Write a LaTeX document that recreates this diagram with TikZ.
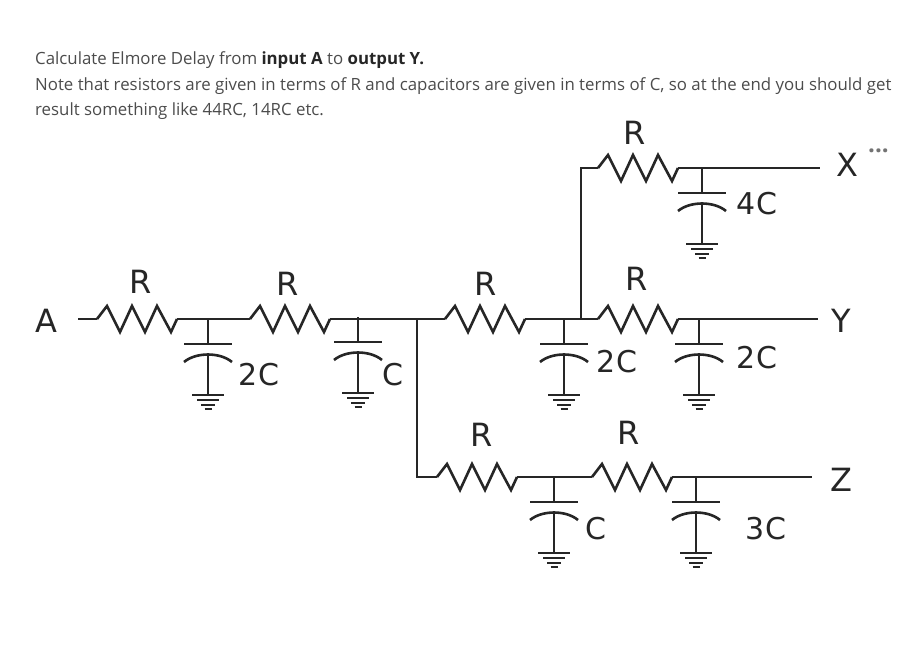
\documentclass[tikz,border=0pt]{standalone}
\usepackage{fontspec}
\setmainfont{Open Sans}
\newfontfamily\labelfont{DejaVu Sans}
\tikzset{
  x=1pt,y=-1pt,
  wire/.style={line width=2.6pt,color=black!85,line join=miter},
  lab/.style={font=\labelfont\fontsize{32}{32}\selectfont,text=black!85,inner sep=0pt,anchor=center},
  clab/.style={font=\labelfont\fontsize{30}{30}\selectfont,text=black!85,inner sep=0pt,anchor=center},
  txt/.style={font=\fontsize{16.83}{20}\selectfont,text=black!70,inner sep=0pt,anchor=base west},
  resistor/.pic={
    \coordinate (-in) at (0,0);
    \coordinate (-out) at (80,0);
    \draw[wire] (-in) -- (10,-13) -- (23,13) -- (35,-13) -- (48,13) -- (60,-13) -- (74,13) -- (-out);
  },
  capgnd/.pic={
    \coordinate (-top) at (0,0);
    \draw[wire] (-top) -- (0,25);
    \draw[wire] (-24,25) -- (24,25);
    \draw[wire] (-24,43) .. controls (-12,33) and (12,33) .. (24,43);
    \draw[wire] (0,36) -- (0,76);
    \draw[wire] (-16,76) -- (16,76);
    \draw[wire] (-11,81) -- (11,81);
    \draw[wire] (-7,86) -- (7,86);
    \draw[wire] (-3.5,90) -- (3.5,90);
  },
}
\begin{document}
\begin{tikzpicture}
\useasboundingbox (0,0) rectangle (920,670);
\fill[white] (0,0) rectangle (920,670);
\node[txt] (t1) at (35,64.5) {Calculate Elmore Delay from {\color{black!85}\textbf{input A}} to {\color{black!85}\textbf{output Y.}}};
\node[txt] (t2) at (35,90) {Note that resistors are given in terms of R and capacitors are given in terms of C, so at the end you should get};
\node[txt] (t3) at (35,115) {result something like 44RC, 14RC etc.};

\node[lab] (A) at (46,321) {A};
\coordinate (astart) at (78,319);
\pic (r1) at (97,319) {resistor};
\pic (r2) at (250,319) {resistor};
\pic (r3) at (445,319) {resistor};
\pic (r4) at (598,319) {resistor};
\pic (r5) at (598,168) {resistor};
\pic (r6) at (437,477) {resistor};
\pic (r7) at (592,477) {resistor};

\pic (c1) at (208,319) {capgnd};
\pic (c2) at (358,317) {capgnd};
\pic (c3) at (564,319) {capgnd};
\pic (c4) at (699,319) {capgnd};
\pic (c5) at (702,168) {capgnd};
\pic (c6) at (554,477) {capgnd};
\pic (c7) at (696,477) {capgnd};

\coordinate (jz) at (417,319);
\coordinate (jzb) at (417,477);
\coordinate (jx) at (581,319);
\coordinate (jxt) at (581,168);
\coordinate (ey) at (818,319);
\coordinate (ex) at (820,168);
\coordinate (ez) at (812,477);

\draw[wire] (astart) -- (r1-in);
\draw[wire] (r1-out) -- (r2-in);
\draw[wire] (r2-out) -- (r3-in);
\draw[wire] (r3-out) -- (r4-in);
\draw[wire] (r4-out) -- (ey);
\draw[wire] (jz) -- (jzb) -- (r6-in);
\draw[wire] (r6-out) -- (r7-in);
\draw[wire] (r7-out) -- (ez);
\draw[wire] (jx) -- (jxt) -- (r5-in);
\draw[wire] (r5-out) -- (ex);

\node[lab] (Lr1) at (141,282) {R};
\node[lab] (Lr2) at (288,284) {R};
\node[lab] (Lr3) at (486,284) {R};
\node[lab] (Lr4) at (637,279) {R};
\node[lab] (Lr5) at (635,133) {R};
\node[lab] (Lr6) at (482,435) {R};
\node[lab] (Lr7) at (629,433) {R};

\node[lab] (X) at (847,165) {X};
\node[lab] (Y) at (841,321) {Y};
\node[lab] (Z) at (841,480) {Z};

\node[clab] (Lc1) at (259,375) {2C};
\node[clab] (Lc2) at (393,375) {C};
\node[clab] (Lc3) at (617,362) {2C};
\node[clab] (Lc4) at (757,358) {2C};
\node[clab] (Lc5) at (757,204) {4C};
\node[clab] (Lc6) at (596,529) {C};
\node[clab] (Lc7) at (766,529) {3C};
\node[font=\fontsize{24}{24}\selectfont\bfseries,text=black!55,inner sep=0pt,anchor=base] (dots) at (878.5,152.5) {...};
\end{tikzpicture}
\end{document}
